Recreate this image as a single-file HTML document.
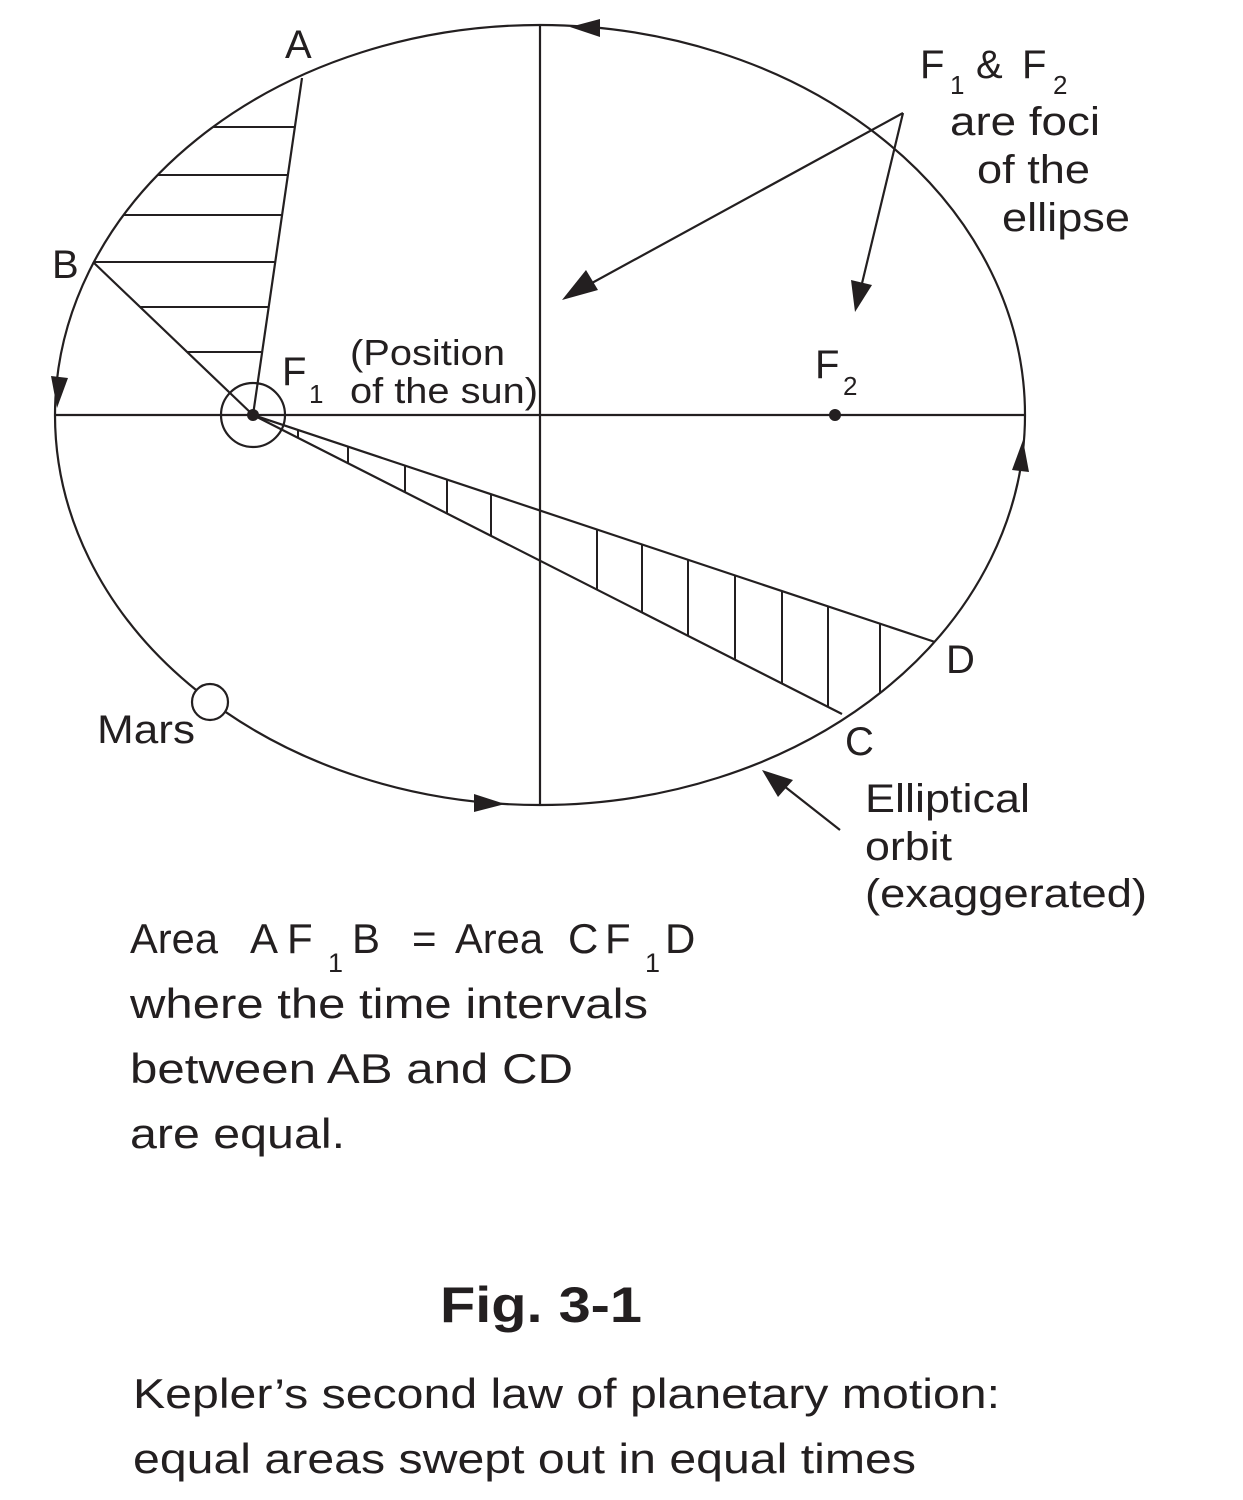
<!DOCTYPE html>
<html><head><meta charset="utf-8"><style>
html,body{margin:0;padding:0;background:#fff;}
svg{display:block;}
text{font-family:"Liberation Sans",Arial,sans-serif;fill:#231f20;}
</style></head><body>
<svg width="1243" height="1500" viewBox="0 0 1243 1500" xmlns="http://www.w3.org/2000/svg">
<g stroke="#231f20" stroke-width="2.2" fill="none">
<ellipse cx="540" cy="415" rx="485" ry="390"/>
<line x1="540" y1="25" x2="540" y2="805"/>
<line x1="55" y1="415" x2="1025" y2="415"/>
<circle cx="253" cy="415" r="32"/>
<line x1="253" y1="415" x2="302" y2="78"/>
<line x1="253" y1="415" x2="93" y2="262"/>
<line x1="253" y1="415" x2="935" y2="642"/>
<line x1="253" y1="415" x2="842" y2="714"/>
<line x1="903" y1="113" x2="570" y2="295"/>
<line x1="903" y1="113" x2="858" y2="300"/>
<line x1="840" y1="830" x2="770" y2="775"/>
<circle cx="210" cy="702" r="18" fill="#fff"/>
</g>
<g stroke="#231f20" stroke-width="2">
<line x1="213" y1="127" x2="294.9" y2="127"/>
<line x1="157.7" y1="175" x2="287.9" y2="175"/>
<line x1="123.6" y1="215" x2="282.1" y2="215"/>
<line x1="93.9" y1="262" x2="275.2" y2="262"/>
<line x1="140.1" y1="307" x2="268.7" y2="307"/>
<line x1="187.1" y1="352" x2="262.2" y2="352"/>
<line x1="298" y1="430" x2="298" y2="437.8"/>
<line x1="348" y1="446.6" x2="348" y2="463.2"/>
<line x1="405" y1="465.6" x2="405" y2="492.2"/>
<line x1="447" y1="479.6" x2="447" y2="513.5"/>
<line x1="491" y1="494.2" x2="491" y2="535.8"/>
<line x1="597" y1="529.5" x2="597" y2="589.6"/>
<line x1="642" y1="544.5" x2="642" y2="612.5"/>
<line x1="688" y1="559.8" x2="688" y2="635.8"/>
<line x1="735" y1="575.4" x2="735" y2="659.7"/>
<line x1="782" y1="591.1" x2="782" y2="683.5"/>
<line x1="828" y1="606.4" x2="828" y2="706.9"/>
<line x1="880" y1="623.7" x2="880" y2="693"/>
</g>
<g fill="#231f20">
<circle cx="253" cy="415" r="6"/>
<circle cx="835" cy="415" r="6"/>
<polygon points="562,300 586,270 598,290"/>
<polygon points="855,312 851,280 872,285"/>
<polygon points="762,770 793,780 778,797"/>
<polygon points="570,27 600,19 600,37"/>
<polygon points="57,408 51,376 68,378"/>
<polygon points="505,804 474,794 474,812"/>
<polygon points="1023,440 1029,472 1012,470"/>
</g>
<text x="285" y="58" font-size="40">A</text>
<text x="52" y="278" font-size="40">B</text>
<text x="282" y="385" font-size="40">F</text><text x="309" y="403" font-size="26">1</text>
<text x="350" y="365" font-size="36" textLength="155" lengthAdjust="spacingAndGlyphs">(Position</text>
<text x="350" y="403" font-size="36" textLength="188" lengthAdjust="spacingAndGlyphs">of the sun)</text>
<text x="815" y="378" font-size="40">F</text><text x="843" y="395" font-size="26">2</text>
<text x="920" y="78" font-size="40">F</text><text x="950" y="94" font-size="26">1</text>
<text x="976" y="78" font-size="40">&amp;</text><text x="1022" y="78" font-size="40">F</text><text x="1053" y="94" font-size="26">2</text>
<text x="950" y="135" font-size="40" textLength="150" lengthAdjust="spacingAndGlyphs">are foci</text>
<text x="977" y="183" font-size="40" textLength="113" lengthAdjust="spacingAndGlyphs">of the</text>
<text x="1002" y="231" font-size="40" textLength="128" lengthAdjust="spacingAndGlyphs">ellipse</text>
<text x="946" y="673" font-size="40">D</text>
<text x="845" y="755" font-size="40">C</text>
<text x="865" y="812" font-size="40" textLength="165" lengthAdjust="spacingAndGlyphs">Elliptical</text>
<text x="865" y="860" font-size="40" textLength="87" lengthAdjust="spacingAndGlyphs">orbit</text>
<text x="865" y="907" font-size="40" textLength="282" lengthAdjust="spacingAndGlyphs">(exaggerated)</text>
<text x="97" y="743" font-size="40" textLength="98" lengthAdjust="spacingAndGlyphs">Mars</text>
<text x="130" y="953" font-size="42" textLength="88" lengthAdjust="spacingAndGlyphs">Area</text>
<text x="250" y="953" font-size="42">A</text><text x="287" y="953" font-size="42">F</text>
<text x="328" y="972" font-size="27">1</text>
<text x="352" y="953" font-size="42">B</text>
<text x="412" y="953" font-size="42">=</text>
<text x="455" y="953" font-size="42" textLength="88" lengthAdjust="spacingAndGlyphs">Area</text>
<text x="568" y="953" font-size="42">C</text><text x="605" y="953" font-size="42">F</text>
<text x="645" y="972" font-size="27">1</text>
<text x="665" y="953" font-size="42">D</text>
<text x="130" y="1018" font-size="42" textLength="518" lengthAdjust="spacingAndGlyphs">where the time intervals</text>
<text x="130" y="1083" font-size="42" textLength="443" lengthAdjust="spacingAndGlyphs">between AB and CD</text>
<text x="130" y="1148" font-size="42" textLength="215" lengthAdjust="spacingAndGlyphs">are equal.</text>
<text x="440" y="1322" font-size="50" font-weight="bold" textLength="202" lengthAdjust="spacingAndGlyphs">Fig. 3-1</text>
<text x="133" y="1408" font-size="42" textLength="867" lengthAdjust="spacingAndGlyphs">Kepler’s second law of planetary motion:</text>
<text x="133" y="1473" font-size="42" textLength="783" lengthAdjust="spacingAndGlyphs">equal areas swept out in equal times</text>
</svg>
</body></html>
